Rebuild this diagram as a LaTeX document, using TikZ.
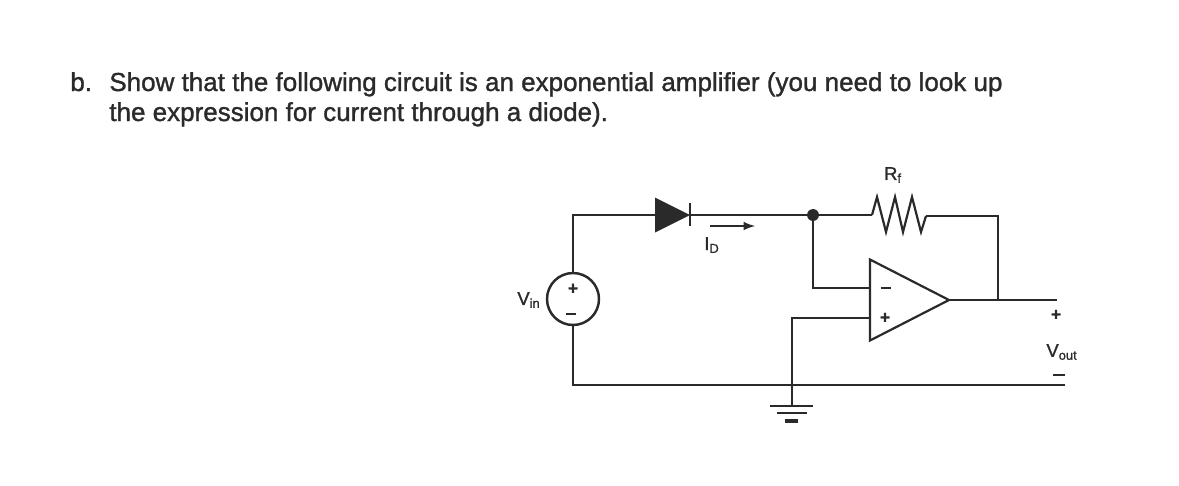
\documentclass[tikz,border=0pt]{standalone}
\usepackage{fontspec}
\setmainfont[FakeBold=1.2]{Liberation Sans}
\usetikzlibrary{arrows,shapes.geometric}
\definecolor{ink}{HTML}{2A2A2A}
\tikzset{
  wire/.style={color=ink,line width=1.6pt},
  thinwire/.style={color=ink,line width=1.25pt},
  para/.style={anchor=base west,inner sep=0pt,text=ink,font=\fontsize{14.8}{18}\selectfont},
  lab/.style={inner sep=0pt,text=ink,font=\fontsize{10.5}{12}\selectfont},
  sign/.style={inner sep=0pt,text=ink,font=\fontsize{10}{12}\bfseries\selectfont},
}
\begin{document}
\begin{tikzpicture}[x=0.02cm,y=-0.02cm]
  \useasboundingbox (0,0) rectangle (1179,485);
  % question text
  \node[para](mark)at(70,91){b.};
  \node[para](lineone)at(109,91){Show that the following circuit is an exponential amplifier (you need to look up};
  \node[para](linetwo)at(109,121){the expression for current through a diode).};
  % parts
  \node[circle,draw=ink,line width=1.4pt,minimum size=1.04cm,inner sep=0pt](vin)at(573,299){};
  \node[isosceles triangle,isosceles triangle stretches,fill=ink,inner sep=0pt,outer sep=0pt,minimum width=0.70cm,minimum height=0.70cm,anchor=lower side](dio)at(655,215){};
  \draw[thinwire] (690,203) -- (690,226);
  \node[circle,fill=ink,inner sep=2.4pt](join)at(813,215){};
  \node[isosceles triangle,isosceles triangle stretches,draw=ink,line width=1.25pt,inner sep=0pt,outer sep=0pt,minimum width=1.62cm,minimum height=1.58cm,anchor=lower side](opamp)at(870,300){};
  \coordinate(ninv)at(870,288);
  \coordinate(pinv)at(870,318);
  \coordinate(rfa)at(872,215);
  \coordinate(rfb)at(926,216);
  \coordinate(corner)at(998,216);
  \coordinate(fbk)at(998,300);
  \coordinate(vo)at(1057,300);
  \coordinate(gnd)at(792,406);
  \coordinate(botr)at(1065,385);
  % wires
  \draw[wire] (vin.north) |- (dio.lower side);
  \draw[wire] (dio.apex) -- (join);
  \draw[wire] (join) -- (rfa);
  \draw[thinwire] (rfa) -- (877,197) -- (886,232) -- (895,197) -- (903,232) -- (912,197) -- (921,232) -- (rfb);
  \draw[wire] (rfb) -- (corner) -- (fbk);
  \draw[wire] (join) |- (ninv);
  \draw[wire] (opamp.apex) -- (vo);
  \draw[wire] (vin.south) |- (botr);
  \draw[wire] (pinv) -| (gnd);
  % ground
  \draw[wire] (770,406) -- (813,406);
  \draw[wire] (777,413) -- (807,413);
  \draw[wire,line width=2pt] (785,421) -- (798,421);
  % current arrow
  \coordinate(ida)at(710,226);
  \coordinate(idb)at(755,226);
  \draw[-latex,thinwire] (ida) -- (idb);
  % labels
  \node[lab](idlab)at(712,245){I\textsubscript{D}};
  \node[lab](rflab)at(893,175){R\textsubscript{f}};
  \node[lab](vinlab)at(529,300){V\textsubscript{in}};
  \node[lab](voutlab)at(1062,352){V\textsubscript{out}};
  \node[sign](vplus)at(573,289){+};
  \node[sign](vminus)at(571,314){\rule{6pt}{1.3pt}};
  \node[sign](ominus)at(886,288){\rule{6pt}{1.3pt}};
  \node[sign](oplus)at(885,318){+};
  \node[sign](vopl)at(1056,315){+};
  \node[sign](vomi)at(1059,375){\rule{7pt}{1.3pt}};
\end{tikzpicture}
\end{document}
